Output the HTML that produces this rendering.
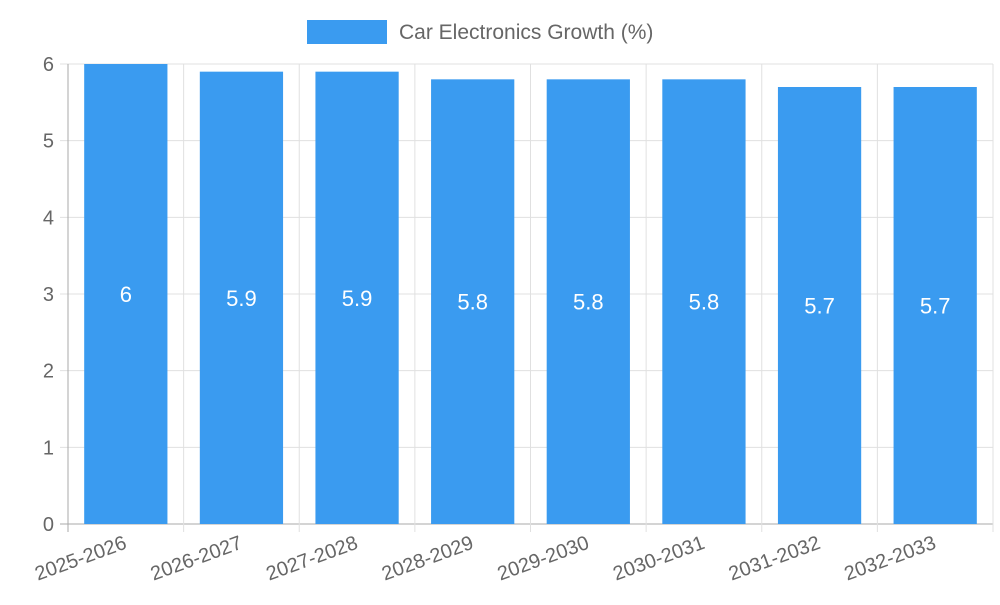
<!DOCTYPE html>
<html><head><meta charset="utf-8"><style>
body{margin:0;background:#fff;}
svg text{font-family:"Liberation Sans",sans-serif;}
</style></head><body>
<svg id="chart" width="1000" height="600" xmlns="http://www.w3.org/2000/svg">
<g>
<rect x="307" y="20" width="80" height="24" fill="#3a9bf0"/>
<text x="399" y="39" font-size="21" fill="#666">Car Electronics Growth (%)</text>
</g>
<g id="grid"></g>
<g id="bars"></g>
<g id="axes"></g>
</svg>
<script>
const categories=["2025-2026","2026-2027","2027-2028","2028-2029","2029-2030","2030-2031","2031-2032","2032-2033"];
const values=[6,5.9,5.9,5.8,5.8,5.8,5.7,5.7];
const yTicks=[0,1,2,3,4,5,6];
const L=68,R=993,T=64,B=524,yMax=6;
const ns="http://www.w3.org/2000/svg";
const bw=(R-L)/categories.length;
const y=v=>B-(v/yMax)*(B-T);
const x=i=>L+i*bw;
function mk(tag,attrs,parent,txt){const e=document.createElementNS(ns,tag);for(const k in attrs)e.setAttribute(k,attrs[k]);if(txt!==undefined)e.textContent=txt;document.getElementById(parent).appendChild(e);return e;}
yTicks.forEach(t=>{
 const g=mk("line",{x1:L-8,x2:R,y1:y(t),y2:y(t),stroke:t===0?"#aaa":"#e0e0e0","stroke-width":1},"grid");
 
 
 const tx=mk("text",{x:L-14,y:y(t)+7,"text-anchor":"end","font-size":20,fill:"#666"},"axes",t);
 
 
});
for(let i=0;i<=categories.length;i++){
 const g=mk("line",{x1:x(i),x2:x(i),y1:T,y2:B+8,stroke:i===0?"#aaa":"#e0e0e0","stroke-width":1},"grid");
 
 
}
categories.forEach((c,i)=>{
 const cx=x(i)+bw/2, w=bw*0.72;
 const r=mk("rect",{x:cx-w/2,y:y(values[i]),width:w,height:B-y(values[i]),fill:"#3a9bf0"},"bars");
 
 
 const vt=mk("text",{x:cx,y:(y(values[i])+B)/2+8,"text-anchor":"middle","font-size":22,fill:"#fff"},"bars",values[i]);
 
 
 const lt=mk("text",{x:cx+2,y:B+24,"text-anchor":"end","font-size":20,fill:"#666",transform:`rotate(-20 ${cx+2} ${B+24})`},"axes",c);
 
 
});
</script>
</body></html>
